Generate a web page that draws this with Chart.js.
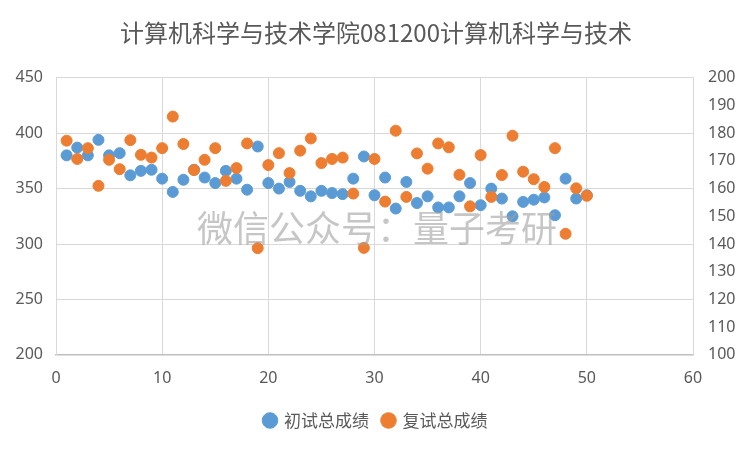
<!DOCTYPE html>
<html>
<head>
<meta charset="utf-8">
<script src="https://cdn.jsdelivr.net/npm/chart.js@4.4.1/dist/chart.umd.min.js"></script>
<style>
  html, body { margin: 0; padding: 0; background: #ffffff; }
  #wrap { width: 752px; height: 452px; }
</style>
</head>
<body>
<div id="wrap"><canvas id="c" width="752" height="452"></canvas></div>
<script>
const titleText = '计算机科学与技术学院081200计算机科学与技术';
const seriesNames = ['初试总成绩', '复试总成绩'];
const watermarkText = '微信公众号：量子考研';

const xIndex = [];
for (let i = 1; i <= 50; i++) xIndex.push(i);

const firstScores = [380, 387, 380, 394, 380, 382, 362, 366, 367, 359,
                     347, 358, 367, 360, 355, 366, 359, 349, 388, 355,
                     350, 356, 348, 343, 348, 346, 345, 359, 379, 344,
                     360, 332, 356, 337, 343, 333, 333, 343, 355, 335,
                     350, 341, 325, 338, 340, 342, 326, 359, 341, 344];

const secondScores = [177.3, 170.7, 174.6, 161.0, 170.4, 167.0, 177.5, 172.2, 171.2, 174.6,
                      186.0, 176.1, 166.7, 170.4, 174.6, 162.8, 167.4, 176.3, 138.5, 168.5,
                      172.8, 165.6, 173.7, 178.1, 169.2, 170.7, 171.2, 158.2, 138.6, 170.7,
                      155.3, 180.9, 157.0, 172.7, 167.2, 176.3, 174.9, 165.0, 153.6, 172.1,
                      157.0, 164.9, 179.1, 166.1, 163.4, 160.6, 174.6, 143.7, 160.1, 157.4];

const xTicks = [0, 10, 20, 30, 40, 50, 60];
const leftTicks = [200, 250, 300, 350, 400, 450];
const rightTicks = [100, 110, 120, 130, 140, 150, 160, 170, 180, 190, 200];

const toPts = (ys) => xIndex.map((x, i) => ({ x: x, y: ys[i] }));

const FONT = '"Noto Sans", "Noto Sans CJK SC", sans-serif';
const CJK = '"Noto Sans CJK SC", sans-serif';
const TXT = '#595959';

const watermark = {
  id: 'watermark',
  afterDatasetsDraw(chart) {
    const ctx = chart.ctx;
    ctx.save();
    ctx.font = '36px ' + CJK;
    ctx.fillStyle = 'rgba(160,160,160,0.6)';
    ctx.textAlign = 'center';
    ctx.textBaseline = 'middle';
    ctx.fillText(watermarkText, 377, 228);
    ctx.restore();
  }
};

new Chart(document.getElementById('c'), {
  type: 'scatter',
  data: {
    datasets: [
      { label: seriesNames[0], data: toPts(firstScores), yAxisID: 'y',
        backgroundColor: '#5B9BD5', borderColor: '#5B9BD5', pointRadius: 5.5, pointHoverRadius: 5.5, order: 1 },
      { label: seriesNames[1], data: toPts(secondScores), yAxisID: 'y1',
        backgroundColor: '#ED7D31', borderColor: '#ED7D31', pointRadius: 5.5, pointHoverRadius: 5.5, order: 0 }
    ]
  },
  options: {
    responsive: false,
    animation: false,
    layout: { padding: { left: 0, right: 0, top: 0, bottom: 13 } },
    plugins: {
      tooltip: { enabled: false },
      title: {
        display: true, text: titleText, color: TXT,
        font: { family: CJK, size: 24, weight: 'normal' },
        padding: { top: 18, bottom: 31 }
      },
      legend: {
        position: 'bottom',
        labels: {
          usePointStyle: true, pointStyle: 'circle', boxWidth: 11, boxHeight: 11,
          color: TXT, font: { family: CJK, size: 17 }, padding: 14,
          sort: (a, b) => a.datasetIndex - b.datasetIndex
        }
      }
    },
    scales: {
      x: {
        type: 'linear', min: 0, max: 60,
        afterBuildTicks: (s) => { s.ticks = xTicks.map(v => ({ value: v })); },
        afterFit: (s) => { s.height = s.height - 4; },
        grid: { color: '#d9d9d9', drawTicks: false },
        border: { color: '#bfbfbf', width: 1.5 },
        ticks: { color: TXT, font: { family: FONT, size: 16 }, padding: 14 }
      },
      y: {
        position: 'left', min: 200, max: 450,
        afterBuildTicks: (s) => { s.ticks = leftTicks.map(v => ({ value: v })); },
        afterFit: (s) => { s.width = 56; },
        grid: { color: '#d9d9d9', drawTicks: false },
        border: { color: '#d9d9d9' },
        ticks: { color: TXT, font: { family: FONT, size: 16 }, padding: 13 }
      },
      y1: {
        position: 'right', min: 100, max: 200,
        afterBuildTicks: (s) => { s.ticks = rightTicks.map(v => ({ value: v })); },
        afterFit: (s) => { s.width = 59; },
        grid: { display: false, drawTicks: false },
        border: { color: '#d9d9d9' },
        ticks: { color: TXT, font: { family: FONT, size: 16 }, padding: 15 }
      }
    }
  },
  plugins: [watermark]
});
</script>
</body>
</html>
